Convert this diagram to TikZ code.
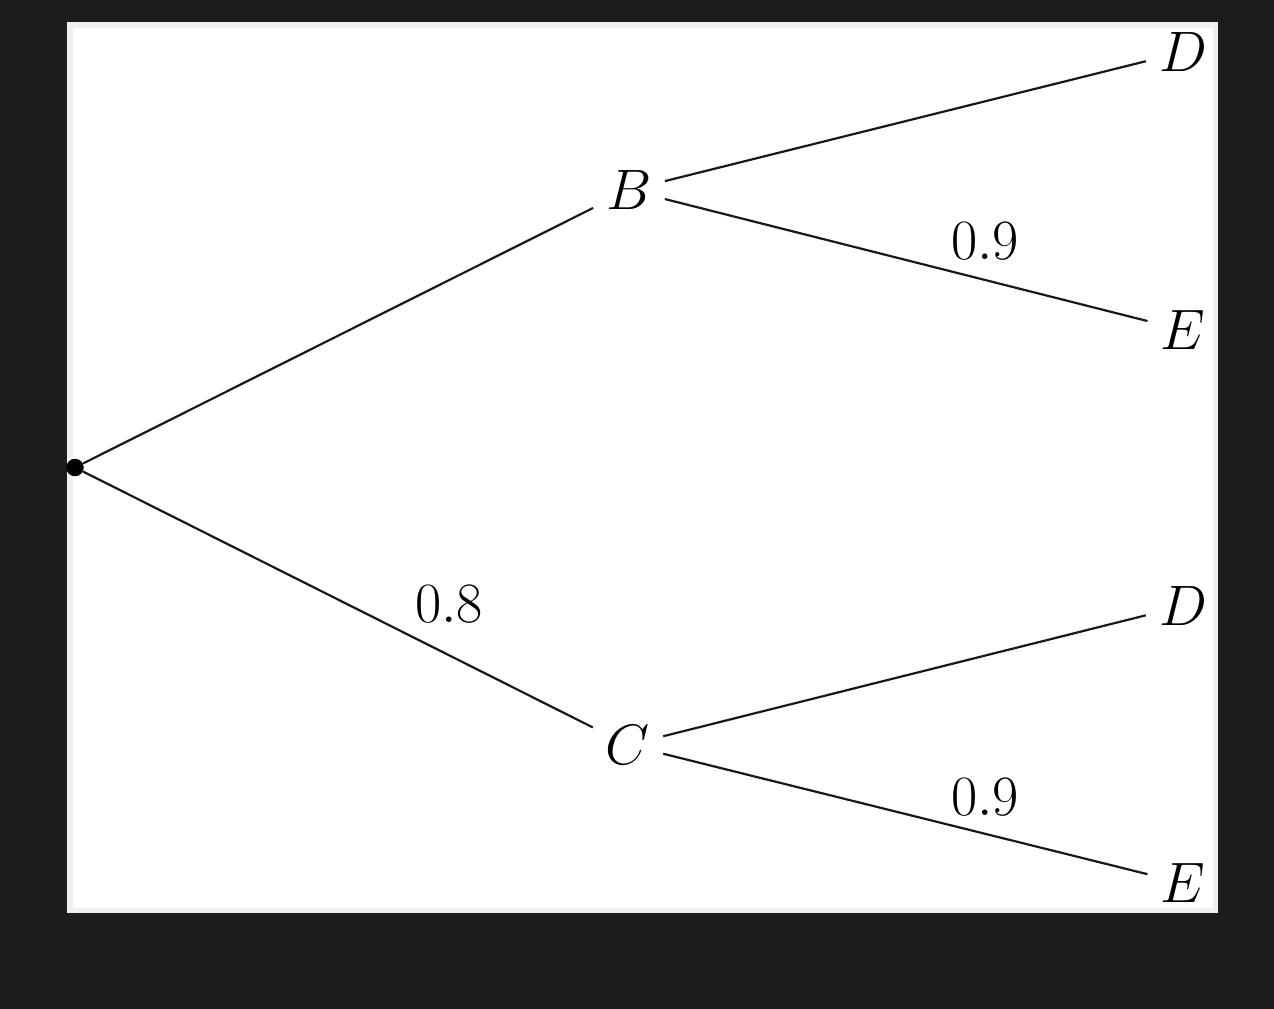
\RequirePackage{fix-cm}
\documentclass[tikz,border=0pt]{standalone}
\definecolor{bgdark}{RGB}{28,28,30}
\definecolor{panelgrey}{RGB}{239,239,239}
\begin{document}
\begin{tikzpicture}[x=1pt,y=-1pt,
  lbl/.style={font=\fontsize{57}{68}\selectfont, inner sep=13pt},
  prob/.style={font=\fontsize{57}{68}\selectfont, inner sep=0pt},
  branch/.style={line width=2.2pt, draw=black!90}]
\useasboundingbox (0,0) rectangle (1274,1009);
\fill[bgdark] (0,0) rectangle (1274,1009);
\fill[panelgrey] (67,22) rectangle (1217.5,913);
\fill[white] (72.5,27.5) rectangle (1212.5,907.5);
\node[circle, fill=black, inner sep=0pt, minimum size=17.5pt] (root) at (75,467.5) {};
\node[lbl] (B) at (629,190) {$B$};
\node[lbl] (C) at (628,745) {$C$};
\node[lbl] (D1) at (1183,52) {$D$};
\node[lbl] (E1) at (1183,330) {$E$};
\node[lbl] (D2) at (1183,606) {$D$};
\node[lbl] (E2) at (1183,883) {$E$};
\draw[branch] (root) -- (B);
\draw[branch] (root) -- (C);
\draw[branch] (B) -- (D1);
\draw[branch] (B) -- (E1);
\draw[branch] (C) -- (D2);
\draw[branch] (C) -- (E2);
\node[prob] (p1) at (985,241) {$0.9$};
\node[prob] (p2) at (449,604) {$0.8$};
\node[prob] (p3) at (985,797) {$0.9$};
\end{tikzpicture}
\end{document}
